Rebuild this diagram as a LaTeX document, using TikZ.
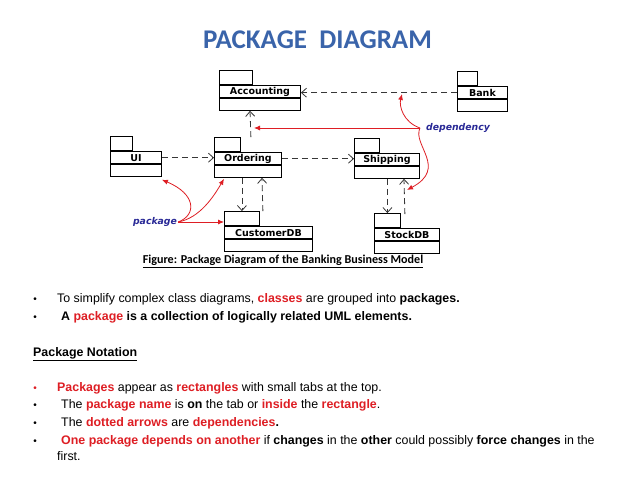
\documentclass[tikz,border=0pt]{standalone}
\usepackage{fontspec}
\setmainfont{Liberation Sans}
\newfontfamily\pkgfont{DejaVu Sans}
\newfontfamily\capfont{Carlito}
\usepackage{xcolor}
\definecolor{pkgred}{RGB}{222, 30, 36}
\definecolor{notenavy}{RGB}{40, 40, 150}
\definecolor{titleblue}{RGB}{58, 100, 170}
\definecolor{depgray}{RGB}{55, 55, 55}
\usepackage{tikz}
\usetikzlibrary{calc,arrows.meta}
\newcommand\redb[1]{\textcolor{pkgred}{\textbf{#1}}}

\begin{document}
\begin{tikzpicture}[x=1pt, y=-1pt,
  pkghead/.style={draw=black, line width=0.9pt, fill=white, minimum height=12.5pt, inner sep=0pt, anchor=north west, font=\pkgfont\bfseries\fontsize{9.5}{10}\selectfont},
  pkgbody/.style={draw=black, line width=0.9pt, minimum height=11.5pt, inner sep=0pt, anchor=north west},
  pkgtab/.style={draw=black, line width=0.9pt, minimum height=14pt, inner sep=0pt, anchor=south west},
  dep/.style={draw=depgray, line width=0.8pt, dash pattern=on 6pt off 4pt, -{Straight Barb[length=5pt,width=9pt]}},
  note/.style={draw=pkgred, line width=0.8pt, -{Latex[length=6pt,width=5pt]}},
  notelab/.style={text=notenavy, inner sep=1pt, font=\pkgfont\bfseries\itshape\fontsize{9.3}{10}\selectfont},
  bul/.style={anchor=base, inner sep=0pt, font=\fontsize{10}{12}\selectfont},
  txt/.style={anchor=base west, inner sep=0pt, font=\fontsize{12.4}{16}\selectfont}
]
  \fill[white] (0,0) rectangle (638,478);
  \useasboundingbox (0,0) rectangle (638,478);

  % Title and caption
  \node[anchor=base, inner sep=0pt, text=titleblue, font=\capfont\bfseries\fontsize{27}{30}\selectfont] (title) at (317.5,49) {PACKAGE\ \ DIAGRAM};
  \node[anchor=base, inner sep=0pt, font=\capfont\bfseries\fontsize{12.1}{13}\selectfont] (fig) at (283,264) {\underline{Figure: Package Diagram of the Banking Business Model}};

  % Packages
  \node[pkghead, minimum width=81pt] (acc)   at (219,85)  {Accounting};
  \node[pkghead, minimum width=50pt] (bank)  at (457,86)  {Bank};
  \node[pkghead, minimum width=51pt] (ui)    at (110,151) {UI};
  \node[pkghead, minimum width=67pt] (ord)   at (214,152) {Ordering};
  \node[pkghead, minimum width=65pt] (ship)  at (354,153) {Shipping};
  \node[pkghead, minimum width=88pt] (cust)  at (224,226) {CustomerDB};
  \node[pkghead, minimum width=65pt] (stock) at (374,228) {StockDB};

  \foreach \p/\w/\t in {acc/81/33, bank/50/20, ui/51/22, ord/67/26, ship/65/25, cust/88/35, stock/65/26} {
    \node[pkgbody, minimum width=\w pt] (b\p) at (\p.south west) {};
    \node[pkgtab, minimum width=\t pt]  (t\p) at (\p.north west) {};
  }

  % Dependencies
  \draw[dep] (bank.west) -- (bank.west -| acc.east);
  \draw[dep] ($(tord.north east)+(10,0)$) -- ($(bacc.south west)+(31,0)$);
  \draw[dep] (ui.east) -- (ui.east -| ord.west);
  \draw[dep] (ord.east) -- (ord.east -| ship.west);
  \draw[dep] (bord.south -| tcust.north) -- (tcust.north);
  \draw[dep] ($(tcust.north east)+(3,0)$) -- ($(bord.south west)+(48,0)$);
  \draw[dep] (bship.south -| tstock.north) -- (tstock.north);
  \draw[dep] ($(tstock.north east)+(4,1)$) -- ($(bship.south west)+(50,0)$);

  % Notes
  \node[notelab] (deplab) at (458,128) {dependency};
  \node[notelab] (pkglab) at (155,222) {package};
  \coordinate (brace)    at ([xshift=-5pt]deplab.west);
  \coordinate (depup)    at (402,94);
  \coordinate (depdown)  at (407,190);
  \coordinate (depleft)  at (254,128);
  \draw[note] (brace) -- (depleft);
  \draw[note] (brace) .. controls (403,122) and (399,106) .. (depup);
  \draw[note] (brace) .. controls (412,145) and (448,168) .. (depdown);
  \draw[note] (pkglab.east) .. controls (197,215) and (196,194) .. ($(bui.south east)+(0,3)$);
  \draw[note] (pkglab.east) .. controls (200,218) and (214,196) .. ($(bord.south west)+(10,1)$);
  \draw[note] (pkglab.east) -- (pkglab.east -| tcust.west);

  % Bullet points
  \foreach \y/\c [count=\i] in {302.5/black, 320.5/black, 391.5/pkgred, 408.5/black, 426.5/black, 444.5/black}
    \node[bul, text=\c] (bul\i) at (35,\y) {\textbullet};

  \node[txt] (t1) at (57,302.5) {To simplify complex class diagrams, \redb{classes} are grouped into \textbf{packages.}};
  \node[txt] (t2) at (57,320.5) {\hspace*{4pt}\textbf{A \redb{package} is a collection of logically related UML elements.}};
  \node[txt] (head) at (33,356.5) {\textbf{\underline{Package Notation}}};
  \node[txt] (n1) at (57,391.5) {\redb{Packages} appear as \redb{rectangles} with small tabs at the top.};
  \node[txt] (n2) at (57,408.5) {\hspace*{4pt}The \redb{package name} is \textbf{on} the tab or \redb{inside} the \redb{rectangle}.};
  \node[txt] (n3) at (57,426.5) {\hspace*{4pt}The \redb{dotted arrows} are \redb{dependencies}\textbf{.}};
  \node[txt] (n4) at (57,444.5) {\hspace*{4pt}\redb{One package depends on another} if \textbf{changes} in the \textbf{other} could possibly \textbf{force changes} in the};
  \node[txt] (n4b) at (57,460.5) {first.};
\end{tikzpicture}
\end{document}
